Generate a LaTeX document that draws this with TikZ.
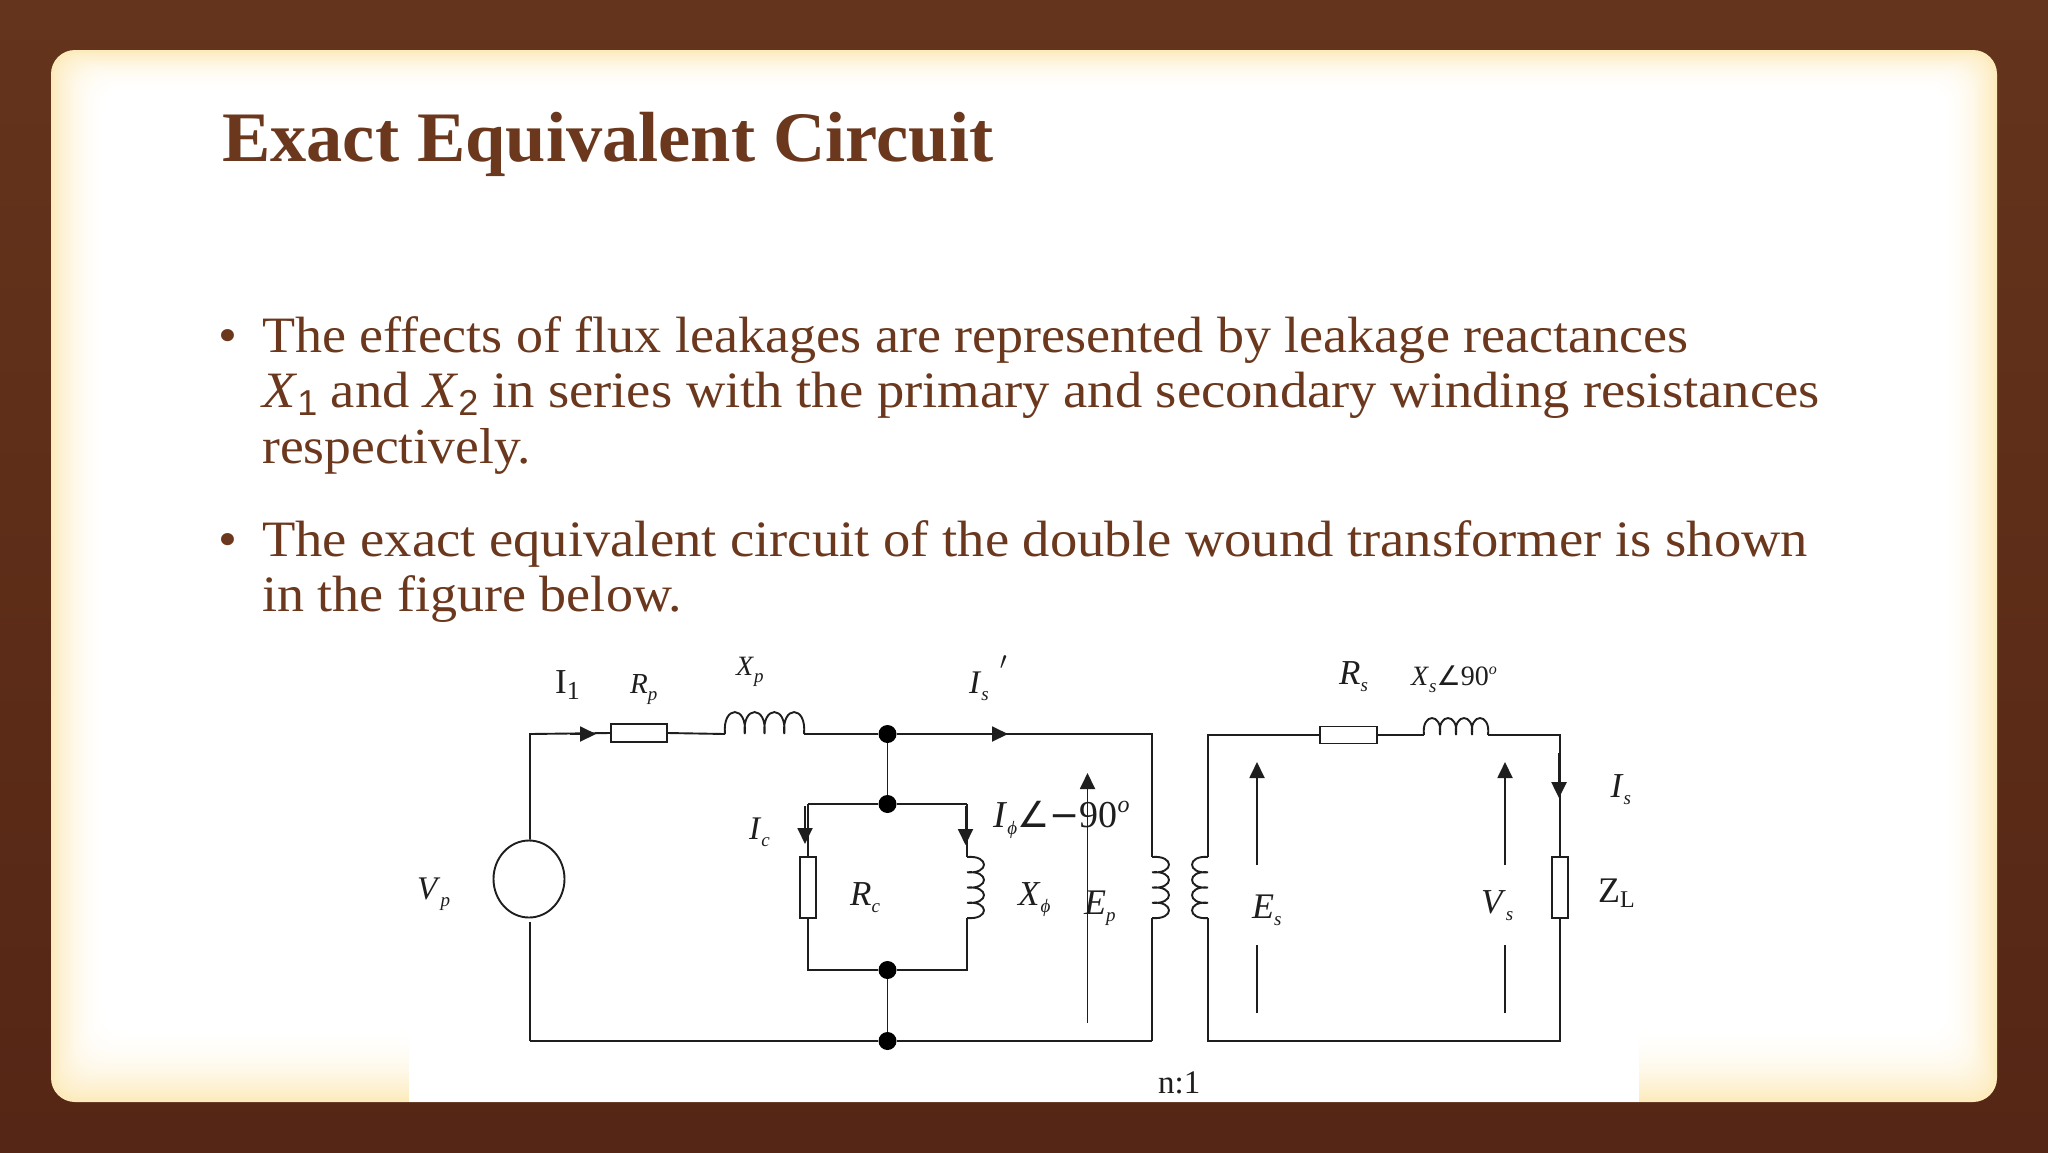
\documentclass[tikz,border=0pt]{standalone}
\usepackage{fontspec}
\setmainfont{Liberation Serif}
\newfontfamily\bodyfont[FakeStretch=1.06]{Liberation Serif}
\newfontfamily\bodywide[FakeStretch=1.07]{Liberation Serif}
\newfontfamily\titlefont[FakeStretch=1.02]{Liberation Serif}
\newfontfamily\symfont{DejaVu Sans}
\usetikzlibrary{arrows.meta,shapes.geometric}
\definecolor{inkbrown}{RGB}{107,56,30}
\definecolor{woodtop}{RGB}{101,52,28}
\definecolor{woodbot}{RGB}{85,38,21}
\definecolor{cardglow}{RGB}{253,235,188}
\definecolor{wirecol}{RGB}{30,30,30}
\newcommand{\sz}[1]{\fontsize{#1}{#1}\selectfont}
\newcommand{\sbs}[1]{\raisebox{-7pt}{\sz{19}\textit{#1}}}
\newcommand{\lab}[2]{\textit{#1}\sbs{#2}}
\newcommand{\coilh}[4]{\draw [wire] \foreach \k in {0,...,3} {({#1+\k*#3},#2) .. controls ({#1+\k*#3-3},{#2-#4*1.33}) and ({#1+\k*#3+#3+3},{#2-#4*1.33}) .. ({#1+\k*#3+#3},#2)};}
\newcommand{\coilv}[4]{\draw [wire] \foreach \k in {0,...,3} {(#1,{#2+\k*#3}) .. controls ({#1+#4*1.33},{#2+\k*#3-2}) and ({#1+#4*1.33},{#2+\k*#3+#3+2}) .. (#1,{#2+\k*#3+#3})};}
\tikzset{
  wire/.style={draw=wirecol,line width=1.9pt},
  thickwire/.style={draw=wirecol,line width=2.6pt},
  tipwire/.style={wire,-{Triangle[length=16pt,width=15pt]}},
  dot/.style={circle,fill=black,inner sep=0pt,minimum size=18pt},
  resbox/.style={draw=wirecol,line width=1.9pt,fill=white,inner sep=0pt},
  lbl/.style={anchor=base west,inner sep=0pt,text=wirecol,font=\sz{33}},
  line/.style={anchor=base west,inner sep=0pt,text=inkbrown,font=\bodyfont\sz{51}}
}
\begin{document}
\begin{tikzpicture}[x=1pt,y=-1pt]
         \useasboundingbox (0,0) rectangle (2048,1152);
         \shade [top color=woodtop,bottom color=woodbot] (0,0) rectangle (2048,1152);
         \foreach \i in {0,...,30} {
             \pgfmathsetmacro{\mixv}{100*(1-\i/30)^2}
             \fill [cardglow!\mixv!white,rounded corners=24pt]
                 ({51+55*\i/30},{50+40*\i/30}) rectangle ({1997-55*\i/30},{1102-75*\i/30});
         }
         \fill [white] (409,640) rectangle (1639,1102);

         \node [anchor=base west,inner sep=0pt,text=inkbrown,font=\titlefont\sz{71}\bfseries] (title) at (222,161) {Exact Equivalent Circuit};
         \node [line] (bulA) at (218,352) {•};
         \node [line] (lineA) at (262,352) {The effects of flux leakages are represented by leakage reactances};
         \node [line,font=\bodywide\sz{51}] (lineB) at (262,407.5) {\textit{X}\raisebox{-8pt}{\sz{36}\fontspec{Liberation Sans}1} and \textit{X}\raisebox{-8pt}{\sz{36}\fontspec{Liberation Sans}2} in series with the primary and secondary winding resistances};
         \node [line,font=\bodyfont\sz{50.5}] (lineC) at (262,463) {respectively.};
         \node [line] (bulB) at (218,556.5) {•};
         \node [line,font=\bodywide\sz{51}] (lineD) at (262,556.5) {The exact equivalent circuit of the double wound transformer is shown};
         \node [line] (lineE) at (262,611.5) {in the figure below.};

         \coordinate (TL) at (530,734);
         \coordinate (BL) at (530,1041);
         \coordinate (SrcB) at (530,922);
         \coordinate (XpL) at (725,734);
         \coordinate (XpR) at (804,734);
         \coordinate (PTR) at (1152,734);
         \coordinate (PBR) at (1152,1041);
         \coordinate (PcT) at (1152,857);
         \coordinate (PcB) at (1152,918);
         \coordinate (STL) at (1208,735);
         \coordinate (SBL) at (1208,1041);
         \coordinate (ScT) at (1208,857);
         \coordinate (ScB) at (1208,918);
         \coordinate (XsL) at (1424,735);
         \coordinate (XsR) at (1488,735);
         \coordinate (STR) at (1560,735);
         \coordinate (SBR) at (1560,1041);
         \coordinate (RcTL) at (808,804);
         \coordinate (XmTR) at (967,804);
         \coordinate (RcBL) at (808,970);
         \coordinate (XmBR) at (967,970);
         \coordinate (XmcT) at (967,857);
         \coordinate (XmcB) at (967,918);

         \node [draw=wirecol,line width=1.9pt,ellipse,fill=white,inner sep=0pt,minimum width=71pt,minimum height=77pt] (Src) at (529,879) {};
         \node [resbox,minimum width=56pt,minimum height=18pt] (Rp) at (639,733) {};
         \node [resbox,minimum width=57pt,minimum height=17pt] (Rs) at (1348.5,735) {};
         \node [resbox,minimum width=16pt,minimum height=61pt] (Rc) at (808,887.5) {};
         \node [resbox,minimum width=16pt,minimum height=61pt] (ZL) at (1560,887.5) {};
         \node [dot] (J1) at (887.5,734) {};
         \node [dot] (J2) at (887.5,804) {};
         \node [dot] (J3) at (887.5,970) {};
         \node [dot] (J4) at (887.5,1041) {};

         \draw [wire] (Src.north -| TL) -- (TL) -- (Rp.west);
         \draw [wire] (Rp.east) -- (XpL);
         \coilh{725}{734}{19.75}{22}
         \draw [wire] (XpR) -- (J1) -- (PTR) -- (PcT);
         \coilv{1152}{857}{15.25}{17}
         \draw [wire] (PcB) -- (PBR);
         \draw [thickwire] (PBR) -- (J4) -- (BL);
         \draw [wire] (BL) -- (SrcB);
         \draw [wire] (J1) -- (J2);
         \draw [wire] (J3) -- (J4);
         \draw [thickwire] (RcTL) -- (J2) -- (XmTR);
         \draw [wire] (XmTR) -- (XmcT);
         \draw [wire] (RcTL) -- (Rc.north);
         \coilv{967}{857}{15.25}{17}
         \draw [wire] (XmcB) -- (XmBR) -- (J3) -- (RcBL) -- (Rc.south);
         \draw [wire] (ScB) -- (SBL) -- (SBR) -- (ZL.south);
         \coilv{1208}{857}{15.25}{-16}
         \draw [wire] (ScT) -- (STL) -- (Rs.west);
         \draw [wire] (Rs.east) -- (XsL);
         \coilh{1424}{735}{16}{17}
         \draw [wire] (XsR) -- (STR) -- (ZL.north);

         \coordinate (aI1a) at (570,734);
         \coordinate (aI1b) at (596,734);
         \coordinate (aIsa) at (980,734);
         \coordinate (aIsb) at (1008,734);
         \coordinate (aIca) at (805,806);
         \coordinate (aIcb) at (805,844);
         \coordinate (aImaa) at (965.5,806);
         \coordinate (aImab) at (965.5,845);
         \coordinate (aEpa) at (1087.5,1023);
         \coordinate (aEpb) at (1087.5,773);
         \coordinate (aEsa) at (1257,865);
         \coordinate (aEsb) at (1257,762);
         \coordinate (aEsc) at (1257,945);
         \coordinate (aEsd) at (1257,1013);
         \coordinate (aVsa) at (1505,865);
         \coordinate (aVsb) at (1505,762);
         \coordinate (aVsc) at (1505,945);
         \coordinate (aVsd) at (1505,1013);
         \coordinate (aIza) at (1559,753);
         \coordinate (aIzb) at (1559,798);
         \draw [tipwire] (aI1a) -- (aI1b);
         \draw [tipwire] (aIsa) -- (aIsb);
         \draw [tipwire] (aIca) -- (aIcb);
         \draw [tipwire] (aImaa) -- (aImab);
         \draw [tipwire] (aEpa) -- (aEpb);
         \draw [tipwire] (aEsa) -- (aEsb);
         \draw [wire] (aEsc) -- (aEsd);
         \draw [tipwire] (aVsa) -- (aVsb);
         \draw [wire] (aVsc) -- (aVsd);
         \draw [tipwire,line width=2.6pt] (aIza) -- (aIzb);

         \node [lbl] (lVp) at (417,899) {\lab{V}{p}};
         \node [lbl,font=\sz{35}] (lI1) at (555,693) {I\raisebox{-6pt}{\sz{26}1}};
         \node [lbl,font=\sz{29}] (lRp) at (630,693) {\lab{R}{p}};
         \node [lbl,font=\sz{28}] (lXp) at (736,675) {\lab{X}{p}};
         \node [lbl] (lIsp) at (969,693) {\lab{I}{s}\raisebox{14pt}{\hspace{11pt}$'$}};
         \node [lbl] (lIc) at (749,839) {\lab{I}{c}};
         \node [lbl,font=\sz{38}] (lIm) at (993,827) {\lab{I}{ϕ}{\symfont\sz{36}∠}{\symfont\sz{36}−}90\raisebox{15pt}{\sz{24}\textit{o}}};
         \node [lbl,font=\sz{35}] (lRc) at (850,905) {\lab{R}{c}};
         \node [lbl,font=\sz{35}] (lXm) at (1018,905) {\lab{X}{ϕ}};
         \node [lbl,font=\sz{36}] (lEp) at (1084,914) {\lab{E}{p}};
         \node [lbl,font=\sz{36}] (lEs) at (1252,918) {\lab{E}{s}};
         \node [lbl,font=\sz{35}] (lVs) at (1481,913) {\lab{V}{s}};
         \node [lbl,font=\sz{35}] (lRs) at (1339,684) {\lab{R}{s}};
         \node [lbl,font=\sz{28}] (lXs) at (1411,685) {\lab{X}{s}{\symfont\sz{27}∠}90\raisebox{11pt}{\sz{16}\textit{o}}};
         \node [lbl,font=\sz{35}] (lIs) at (1610.5,797) {\lab{I}{s}};
         \node [lbl,font=\sz{36}] (lZL) at (1598,902) {Z\raisebox{-5pt}{\sz{24}L}};
         \node [lbl,font=\sz{33}] (ln1) at (1158,1093) {n:1};
\end{tikzpicture}
\end{document}
